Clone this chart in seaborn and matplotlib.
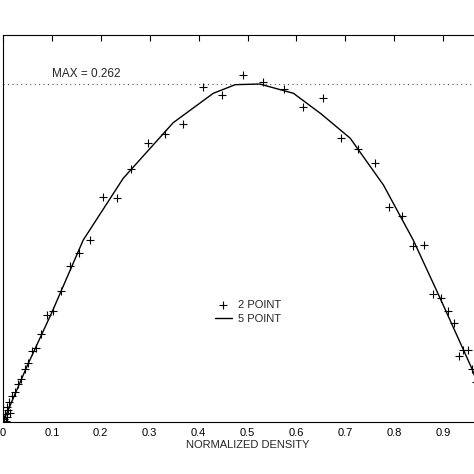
import matplotlib
matplotlib.use("Agg")
import matplotlib.pyplot as plt
import seaborn as sns
import pandas as pd

# 2-point data (markers)
two_x = [0.002, 0.004, 0.006, 0.008, 0.010, 0.0075, 0.0143, 0.013, 0.019, 0.0239,
         0.0313, 0.0375, 0.045, 0.0518, 0.0587, 0.0675, 0.0777, 0.0906, 0.103, 0.1186,
         0.137, 0.156, 0.178, 0.205, 0.2325, 0.2624, 0.2959, 0.331, 0.3688, 0.408,
         0.4485, 0.490, 0.532, 0.5746, 0.614, 0.655, 0.692, 0.7266, 0.760, 0.7887,
         0.815, 0.839, 0.861, 0.8787, 0.8957, 0.9094, 0.9223, 0.9332, 0.9413, 0.950,
         0.959, 0.967]
two_y = [0.002, 0.006, 0.001, 0.004, 0.009, 0.0119, 0.0067, 0.0157, 0.0202, 0.023,
         0.0294, 0.0336, 0.0408, 0.046, 0.0553, 0.0576, 0.068, 0.083, 0.0863, 0.1016,
         0.121, 0.1308, 0.141, 0.1747, 0.1734, 0.1961, 0.2165, 0.2233, 0.2313, 0.2594,
         0.2535, 0.269, 0.2638, 0.2584, 0.244, 0.2514, 0.2199, 0.2116, 0.2005, 0.1664,
         0.1594, 0.1367, 0.1372, 0.0995, 0.0961, 0.086, 0.077, 0.0512, 0.0558, 0.0558,
         0.0413, 0.0307]

# 5-point data (line)
five_x = [0, 0.05, 0.1, 0.164, 0.246, 0.348, 0.43, 0.475, 0.525, 0.594, 0.65, 0.71,
          0.778, 0.839, 0.894, 0.959, 1.0]
five_y = [0, 0.044, 0.085, 0.141, 0.189, 0.232, 0.2548, 0.2615, 0.262, 0.2548, 0.239,
          0.22, 0.1837, 0.141, 0.0959, 0.0413, 0.0]

max_value = 0.262
x_ticks = [0, 0.1, 0.2, 0.3, 0.4, 0.5, 0.6, 0.7, 0.8, 0.9, 1.0]
x_tick_labels = ["0", "0.1", "0.2", "0.3", "0.4", "0.5", "0.6", "0.7", "0.8", "0.9", ""]
y_ticks = [0, 0.05, 0.1, 0.15, 0.2, 0.25, 0.3]

sns.set_style("white")
plt.rcParams['font.family'] = ['Liberation Sans', 'DejaVu Sans']
plt.rcParams['font.size'] = 8

fig = plt.figure(figsize=(4.74, 4.74), dpi=100)
ax = fig.add_axes([3 / 474, 52 / 474, 489 / 474, 387 / 474])

df2 = pd.DataFrame({"x": two_x, "y": two_y})
df5 = pd.DataFrame({"x": five_x, "y": five_y})

ax.axhline(max_value, ls=(0, (1, 3)), color="#555555", lw=0.8)
sns.scatterplot(data=df2, x="x", y="y", marker="+", s=32, color="black",
                linewidth=0.8, ax=ax, label="2 POINT", zorder=3)
sns.lineplot(data=df5, x="x", y="y", color="black", lw=1.0, sort=False,
             estimator=None, ax=ax, label="5 POINT")

ax.text(0.1, 0.265, "MAX = 0.262", fontsize=8.5, va="bottom", ha="left")

ax.set_xlim(0, 1)
ax.set_ylim(0, 0.3)
ax.set_xticks(x_ticks)
ax.set_xticklabels(x_tick_labels)
ax.set_yticks(y_ticks)
ax.tick_params(direction="in", length=4, width=0.8, top=True, right=True,
               labelsize=8, pad=4, colors="black")
ax.tick_params(axis="y", labelleft=False)
for s in ax.spines.values():
    s.set_color("black")
    s.set_linewidth(0.8)
ax.set_xlabel("NORMALIZED DENSITY", fontsize=8, labelpad=2)
ax.set_ylabel("")

leg = ax.legend(loc="upper left", bbox_to_anchor=(0.4335, 0.315), frameon=False,
                borderpad=0, borderaxespad=0, handlelength=1.5, handletextpad=0.6,
                labelspacing=0.35, fontsize=8)

fig.savefig("out.png", dpi=100)
